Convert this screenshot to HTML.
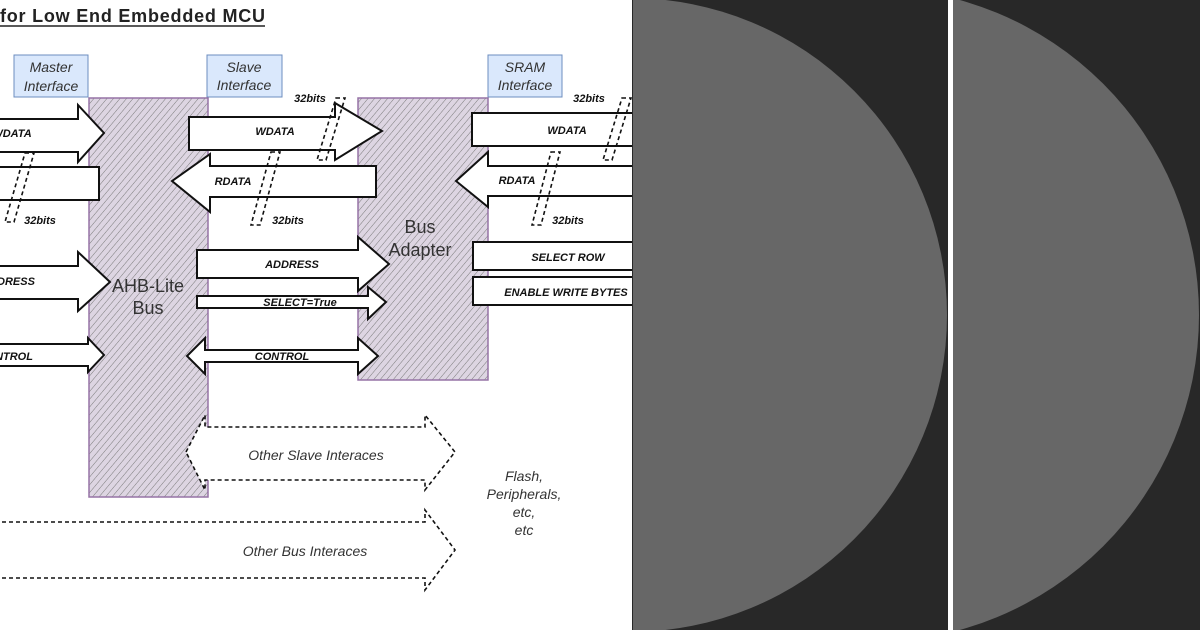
<!DOCTYPE html>
<html><head><meta charset="utf-8"><style>
html,body{margin:0;padding:0;width:1200px;height:630px;overflow:hidden;background:#fff}
svg{display:block}
text{font-family:"Liberation Sans",sans-serif}
.l{font-style:italic;font-weight:bold;font-size:11px;fill:#111;text-anchor:middle}
.i{font-style:italic;font-size:14px;fill:#333;text-anchor:middle}
.a{fill:#fff;stroke:#111;stroke-width:2}
.d{fill:none;stroke:#111;stroke-width:1.6;stroke-dasharray:4 3}
.df{fill:#fff;stroke:#111;stroke-width:1.6;stroke-dasharray:4 3}
</style></head><body>
<svg width="1200" height="630" viewBox="0 0 1200 630">
<defs>
<pattern id="h" width="5" height="5" patternUnits="userSpaceOnUse" patternTransform="rotate(40)">
<rect width="5" height="5" fill="#ddd5e2"/><line x1="0" y1="0" x2="0" y2="5" stroke="#7a7a7a" stroke-width="1"/>
</pattern>
<clipPath id="c1"><rect x="633" y="0" width="315" height="630"/></clipPath>
<clipPath id="c2"><rect x="953" y="0" width="247" height="630"/></clipPath>
</defs>
<rect width="632" height="630" fill="#fff"/>
<text x="0" y="22" font-size="18" font-weight="bold" fill="#222" textLength="265">for Low End Embedded MCU</text>
<line x1="0" y1="26" x2="265" y2="26" stroke="#222" stroke-width="1.5"/>

<rect x="14" y="55" width="74" height="42" fill="#dae8fc" stroke="#6c8ebf"/>
<text class="i" x="51" y="72">Master</text><text class="i" x="51" y="91">Interface</text>
<rect x="207" y="55" width="75" height="42" fill="#dae8fc" stroke="#6c8ebf"/>
<text class="i" x="244" y="72">Slave</text><text class="i" x="244" y="90">Interface</text>
<rect x="488" y="55" width="74" height="42" fill="#dae8fc" stroke="#6c8ebf"/>
<text class="i" x="525" y="72">SRAM</text><text class="i" x="525" y="90">Interface</text>

<rect x="89" y="98" width="119" height="399" fill="url(#h)" stroke="#9673a6" stroke-width="1.5"/>
<text x="148" y="292" font-size="18" fill="#333" text-anchor="middle">AHB-Lite</text>
<text x="148" y="314" font-size="18" fill="#333" text-anchor="middle">Bus</text>
<rect x="358" y="98" width="130" height="282" fill="url(#h)" stroke="#9673a6" stroke-width="1.5"/>
<text x="420" y="233" font-size="18" fill="#333" text-anchor="middle">Bus</text>
<text x="420" y="256" font-size="18" fill="#333" text-anchor="middle">Adapter</text>

<polygon class="a" points="-5,119 78,119 78,105 104,133 78,162 78,152 -5,152"/>
<text class="l" x="12" y="137">WDATA</text>
<rect class="a" x="-5" y="167" width="104" height="33"/>
<path class="d" d="M25,153 L34,153 L14,222 L5,222 Z"/>
<text class="l" x="40" y="224">32bits</text>
<polygon class="a" points="-5,266 78,266 78,252 110,282 78,311 78,299 -5,299"/>
<text class="l" x="16" y="285">DRESS</text>
<polygon class="a" points="-5,344 88,344 88,338 104,355 88,372 88,366 -5,366"/>
<text class="l" x="14" y="360">NTROL</text>

<polygon class="a" points="189,117 335,117 335,103 382,131 335,160 335,150 189,150"/>
<text class="l" x="275" y="135">WDATA</text>
<path class="d" d="M336,98 L345,98 L326,160 L317,160 Z"/>
<text class="l" x="310" y="102">32bits</text>
<polygon class="a" points="376,166 210,166 210,154 172,181 210,212 210,197 376,197"/>
<text class="l" x="233" y="185">RDATA</text>
<path class="d" d="M271,152 L280,152 L260,225 L251,225 Z"/>
<text class="l" x="288" y="224">32bits</text>
<polygon class="a" points="197,250 358,250 358,237 389,264 358,291 358,278 197,278"/>
<text class="l" x="292" y="268">ADDRESS</text>
<polygon class="a" points="197,296 368,296 368,287 386,302 368,319 368,308 197,308"/>
<text class="l" x="300" y="306" font-size="10">SELECT=True</text>
<polygon class="a" points="187,356 205,338 205,350 358,350 358,338 378,356 358,374 358,362 205,362 205,374"/>
<text class="l" x="282" y="360">CONTROL</text>

<rect class="a" x="472" y="113" width="165" height="33"/>
<text class="l" x="567" y="134">WDATA</text>
<path class="d" d="M622,98 L631,98 L612,160 L603,160 Z"/>
<text class="l" x="589" y="102">32bits</text>
<polygon class="a" points="640,166 488,166 488,152 456,181 488,207 488,196 640,196"/>
<text class="l" x="517" y="184">RDATA</text>
<path class="d" d="M551,152 L560,152 L541,225 L532,225 Z"/>
<text class="l" x="568" y="224">32bits</text>
<rect class="a" x="473" y="242" width="165" height="28"/>
<text class="l" x="568" y="261">SELECT ROW</text>
<rect class="a" x="473" y="277" width="165" height="28"/>
<text class="l" x="566" y="296">ENABLE WRITE BYTES</text>

<polygon class="df" points="186,452 205,415 205,427 425,427 425,415 455,452 425,490 425,480 205,480 205,490"/>
<text class="i" x="316" y="460" font-size="13.5">Other Slave Interaces</text>
<polygon class="df" points="-5,522 425,522 425,510 455,550 425,590 425,578 -5,578"/>
<text class="i" x="305" y="556" font-size="13.5">Other Bus Interaces</text>
<text class="i" x="524" y="481" font-size="13">Flash,</text>
<text class="i" x="524" y="499" font-size="13">Peripherals,</text>
<text class="i" x="524" y="517" font-size="13">etc,</text>
<text class="i" x="524" y="535" font-size="13">etc</text>

<rect x="632" y="0" width="568" height="630" fill="#282828"/>
<circle cx="630" cy="315" r="317" fill="#676767" clip-path="url(#c1)"/>
<rect x="948" y="0" width="5" height="630" fill="#fff"/>
<circle cx="872" cy="315" r="327" fill="#676767" clip-path="url(#c2)"/>
</svg>
</body></html>
